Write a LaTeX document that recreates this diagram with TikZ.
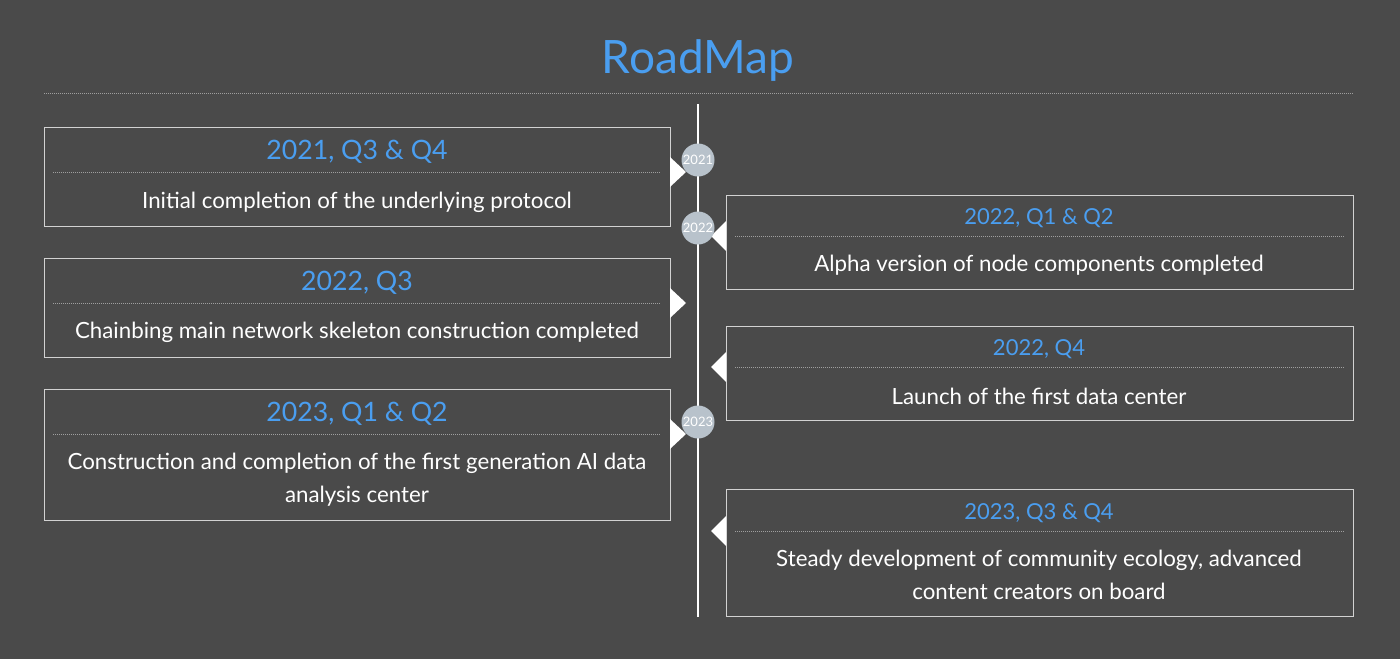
\documentclass[tikz,border=0pt]{standalone}
\usepackage{fontspec}
\setmainfont{Lato}
\usetikzlibrary{positioning,calc}
\definecolor{backdrop}{HTML}{4A4A4A}
\definecolor{roadblue}{HTML}{4A9EF0}
\definecolor{knobgray}{HTML}{B8C2CB}

\begin{document}
\begin{tikzpicture}[x=1pt,y=-1pt,
  card/.style={draw=gray!35, line width=1pt, anchor=north west, inner sep=0pt},
  bigyear/.style={text=roadblue, font=\fontsize{26.7}{30}\selectfont},
  smallyear/.style={text=roadblue, font=\fontsize{22}{26}\selectfont},
  body/.style={text=white, font=\fontsize{22.3}{33}\selectfont, align=center},
  divider/.style={gray!75, line width=1pt, dash pattern=on 1pt off 1pt},
  knob/.style={circle, fill=knobgray, minimum size=33pt, inner sep=0pt,
    text=white, font=\fontsize{13}{15}\selectfont}]
  \fill[backdrop] (0,0) rectangle (1400,659);
  \useasboundingbox (0,0) rectangle (1400,659);

  % heading
  \node[text=roadblue, font=\fontsize{46}{52}\selectfont] (head) at (698,61) {RoadMap};
  \draw[divider] (44,93) -- (1353,93);

  % time line
  \coordinate (top) at (698,104);
  \coordinate (bottom) at (698,617);
  \draw[white, line width=2pt] (top) -- (bottom);

  % left cards
  \node[card, minimum width=626, minimum height=99] (c1) at (44,127) {};
  \node[bigyear] (t1) at (357,152) {2021, Q3 \& Q4};
  \draw[divider] (53,172) -- (661,172);
  \node[body] (b1) at (357,202) {Initial completion of the underlying protocol};
  \fill[white] (670,157) -- (686,172) -- (670,187) -- cycle;

  \node[card, minimum width=626, minimum height=99] (c3) at (44,258) {};
  \node[bigyear] (t3) at (357,283) {2022, Q3};
  \draw[divider] (53,303) -- (661,303);
  \node[body] (b3) at (357,332) {Chainbing main network skeleton construction completed};
  \fill[white] (670,288) -- (686,303) -- (670,318) -- cycle;

  \node[card, minimum width=626, minimum height=131] (c5) at (44,389) {};
  \node[bigyear] (t5) at (357,414) {2023, Q1 \& Q2};
  \draw[divider] (53,434) -- (661,434);
  \node[body] (b5) at (357,480) {Construction and completion of the first generation AI data\\analysis center};
  \fill[white] (670,419) -- (686,434) -- (670,449) -- cycle;

  % right cards
  \node[card, minimum width=627, minimum height=94] (c2) at (726,195) {};
  \node[smallyear] (t2) at (1039,218) {2022, Q1 \& Q2};
  \draw[divider] (735,236) -- (1344,236);
  \node[body] (b2) at (1039,265) {Alpha version of node components completed};
  \fill[white] (726,221) -- (711,236) -- (726,251) -- cycle;

  \node[card, minimum width=627, minimum height=94] (c4) at (726,326) {};
  \node[smallyear] (t4) at (1039,349) {2022, Q4};
  \draw[divider] (735,367) -- (1344,367);
  \node[body] (b4) at (1039,396) {Launch of the first data center};
  \fill[white] (726,352) -- (711,367) -- (726,382) -- cycle;

  \node[card, minimum width=627, minimum height=127] (c6) at (726,489) {};
  \node[smallyear] (t6) at (1039,513) {2023, Q3 \& Q4};
  \draw[divider] (735,531) -- (1344,531);
  \node[body] (b6) at (1039,575) {Steady development of community ecology, advanced\\content creators on board};
  \fill[white] (726,516) -- (711,531) -- (726,546) -- cycle;

  % year marks
  \node[knob] (y2021) at (698,160) {2021};
  \node[knob] (y2022) at (698,228) {2022};
  \node[knob] (y2023) at (698,422) {2023};
\end{tikzpicture}
\end{document}
